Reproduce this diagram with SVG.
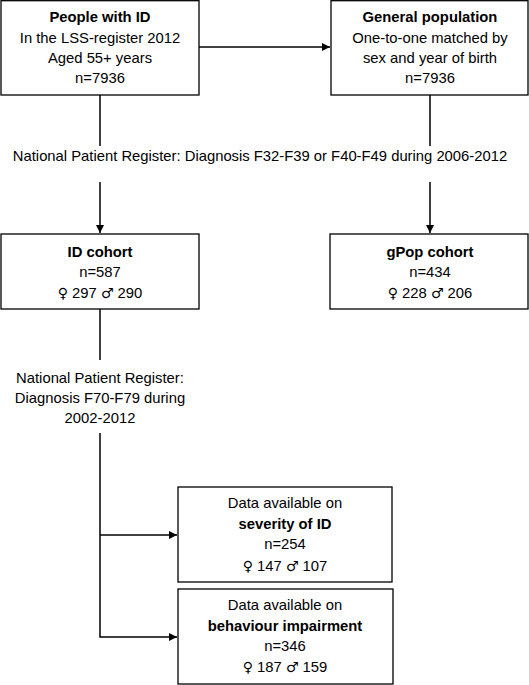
<svg xmlns="http://www.w3.org/2000/svg" width="529" height="685" viewBox="0 0 529 685">
<style>
.box{fill:#fff;stroke:#000;stroke-width:1.3}
.ln{fill:none;stroke:#000;stroke-width:1.5}
text{font-family:"Liberation Sans",Arial,sans-serif;font-size:14.8px;fill:#000;text-anchor:middle}
.b{font-weight:bold}
.sym{font-family:"DejaVu Sans",sans-serif;font-size:14px}
</style>
<defs>
<marker id="ah" viewBox="0 0 10 10" refX="10" refY="5" markerWidth="8" markerHeight="8" orient="auto" markerUnits="userSpaceOnUse">
<path d="M0,0 L10,5 L0,10 Z" fill="#000"/>
</marker>
</defs>
<rect width="529" height="685" fill="#fff"/>
<g id="connectors">
<line class="ln" x1="199" y1="47" x2="330" y2="47" marker-end="url(#ah)"/>
<line class="ln" x1="100" y1="95" x2="100" y2="146"/>
<line class="ln" x1="100" y1="182" x2="100" y2="233" marker-end="url(#ah)"/>
<line class="ln" x1="430" y1="95" x2="430" y2="146"/>
<line class="ln" x1="430" y1="182" x2="430" y2="233" marker-end="url(#ah)"/>
<line class="ln" x1="100" y1="309" x2="100" y2="360"/>
<polyline class="ln" points="100,433 100,637 177,637" marker-end="url(#ah)"/>
<line class="ln" x1="100" y1="535" x2="177" y2="535" marker-end="url(#ah)"/>
<text x="260" y="161">National Patient Register: Diagnosis F32-F39 or F40-F49 during 2006-2012</text>
<text x="100" y="383">National Patient Register:</text>
<text x="100" y="403">Diagnosis F70-F79 during</text>
<text x="100" y="423">2002-2012</text>
</g>
<g id="people-id">
<rect class="box" x="1" y="0.7" width="198" height="94.3"/>
<text class="b" x="100" y="22">People with ID</text>
<text x="100" y="43">In the LSS-register 2012</text>
<text x="100" y="63">Aged 55+ years</text>
<text x="100" y="83">n=7936</text>
</g>
<g id="general-population">
<rect class="box" x="331" y="0.7" width="197" height="94.3"/>
<text class="b" x="430" y="22">General population</text>
<text x="430" y="43">One-to-one matched by</text>
<text x="430" y="63">sex and year of birth</text>
<text x="430" y="83">n=7936</text>
</g>
<g id="id-cohort">
<rect class="box" x="1" y="234" width="198" height="75"/>
<text class="b" x="100" y="257">ID cohort</text>
<text x="100" y="277">n=587</text>
<text x="100" y="298"><tspan class="sym">♀</tspan> 297 <tspan class="sym">♂</tspan> 290</text>
</g>
<g id="gpop-cohort">
<rect class="box" x="330" y="234" width="198" height="75"/>
<text class="b" x="430" y="257">gPop cohort</text>
<text x="430" y="277">n=434</text>
<text x="430" y="298"><tspan class="sym">♀</tspan> 228 <tspan class="sym">♂</tspan> 206</text>
</g>
<g id="severity">
<rect class="box" x="178" y="487" width="214" height="95"/>
<text x="285" y="508">Data available on</text>
<text class="b" x="285" y="529">severity of ID</text>
<text x="285" y="549">n=254</text>
<text x="285" y="571"><tspan class="sym">♀</tspan> 147 <tspan class="sym">♂</tspan> 107</text>
</g>
<g id="behaviour">
<rect class="box" x="178" y="589" width="215" height="95"/>
<text x="285" y="610">Data available on</text>
<text class="b" x="285" y="631">behaviour impairment</text>
<text x="285" y="651">n=346</text>
<text x="285" y="672"><tspan class="sym">♀</tspan> 187 <tspan class="sym">♂</tspan> 159</text>
</g>
</svg>
